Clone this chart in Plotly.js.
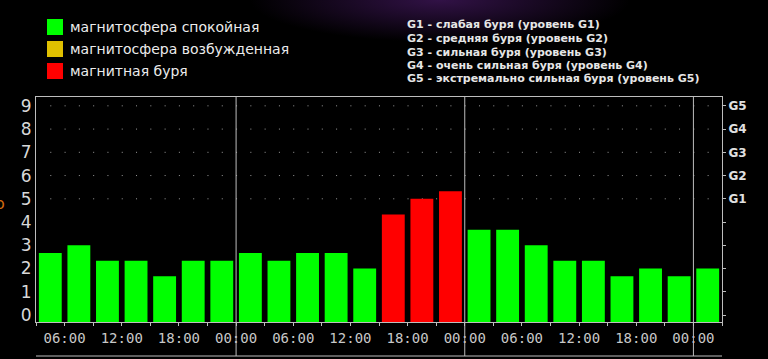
<!DOCTYPE html>
<html>
<head>
<meta charset="utf-8">
<script src="https://cdn.plot.ly/plotly-3.0.1.min.js"></script>
<style>
html,body{margin:0;padding:0;width:768px;height:359px;overflow:hidden;
background:#000 radial-gradient(ellipse 190px 42px at 440px 0px, rgba(62,22,88,0.8), rgba(0,0,0,0) 100%);}
#chart{width:768px;height:359px;}
</style>
</head>
<body>
<div id="chart"></div>
<script>
// ---- data ----
// Kp index, 3-hour intervals; first interval starts at 03:00 of day 1
const startHour = 3;
const kpDay1 = [2.67, 3.0, 2.33, 2.33, 1.67, 2.33, 2.33];
const kpDay2 = [2.67, 2.33, 2.67, 2.67, 2.0, 4.33, 5.0, 5.33];
const kpDay3 = [3.67, 3.67, 3.0, 2.33, 2.33, 1.67, 2.0, 1.67];
const kpDay4 = [2.0];
const xTickHours = [6, 12, 18, 24, 30, 36, 42, 48, 54, 60, 66, 72];
const xTickLabels = ['06:00','12:00','18:00','00:00','06:00','12:00','18:00','00:00','06:00','12:00','18:00','00:00'];
const dayBoundaries = [24, 48, 72];
const yTicks = [0,1,2,3,4,5,6,7,8,9];
const gLabels = ['','','','','','G1','G2','G3','G4','G5'];
const gLevels = [5,6,7,8,9];
const legendItems = ['магнитосфера спокойная','магнитосфера возбужденная','магнитная буря'];
const legendColors = ['#00ff00','#e0c000','#ff0000'];
const gLegend = [
  'G1 - слабая буря (уровень G1)',
  'G2 - средняя буря (уровень G2)',
  'G3 - сильная буря (уровень G3)',
  'G4 - очень сильная буря (уровень G4)',
  'G5 - экстремально сильная буря (уровень G5)'
];

const kp = kpDay1.concat(kpDay2, kpDay3, kpDay4);
const xs = kp.map((v, i) => startHour + 1.5 + 3 * i);
const colors = kp.map(v => v > 4 ? '#ff0000' : (v >= 4 ? '#e0c000' : '#00ff00'));
const yMin = -0.3, yMax = 9.38;
const xMax = startHour + 3 * kp.length;

// pixel -> paper helpers (plot area 36..722 x 97..322)
const L = 36, R = 722, T = 97, B = 322;
const PX = p => (p - L) / (R - L);
const PY = p => (B - p) / (B - T);

const traces = [
  {type:'bar', x: xs, y: kp.map(v => v - yMin), base: yMin,
   marker:{color: colors, line:{width:0}}, hoverinfo:'skip', showlegend:false},
  {type:'scatter', x:[], y:[], yaxis:'y2', hoverinfo:'skip', showlegend:false}
];

const shapes = [];
gLevels.forEach(g => shapes.push({type:'line', xref:'x', yref:'y', x0: startHour + 1.5, x1: xMax, y0: g, y1: g,
  line:{color:'#9a9a9a', width:1, dash:'1px,13.29px'}, layer:'below'}));
dayBoundaries.forEach(d => shapes.push({type:'line', xref:'x', yref:'paper', x0:d, x1:d, y0: PY(356), y1: 1,
  line:{color:'#bdbdbd', width:1}}));
shapes.push({type:'line', xref:'paper', yref:'paper', x0:0, x1:1, y0:PY(356), y1:PY(356), line:{color:'#bdbdbd', width:1}});
legendColors.forEach((c, i) => shapes.push({type:'rect', xref:'paper', yref:'paper',
  x0: PX(47), x1: PX(63), y0: PY(35 + 22 * i), y1: PY(19 + 22 * i), fillcolor: c, line:{width:0}}));

const annotations = [];
legendItems.forEach((t, i) => annotations.push({xref:'paper', yref:'paper', x: PX(68), y: PY(27 + 22 * i),
  xanchor:'left', yanchor:'middle', text: t, showarrow:false,
  font:{family:'DejaVu Sans', size:14, color:'#ececec'}}));
gLegend.forEach((t, i) => annotations.push({xref:'paper', yref:'paper', x: PX(405), y: PY(25 + 13.5 * i),
  xanchor:'left', yanchor:'middle', text: t, showarrow:false,
  font:{family:'DejaVu Sans', size:11, color:'#e6e6e6', weight:'bold'}}));
annotations.push({xref:'paper', yref:'paper', x: PX(0), y: PY(203), xanchor:'center', yanchor:'middle',
  text:'о', showarrow:false, font:{family:'DejaVu Sans', size:16, color:'#d06a10'}});

const layout = {
  width:768, height:359,
  margin:{l:L, r:768 - R, t:T, b:359 - B, pad:0},
  paper_bgcolor:'rgba(0,0,0,0)', plot_bgcolor:'#000',
  bargap:0.2,
  xaxis:{range:[startHour, xMax], tickvals: xTickHours, ticktext: xTickLabels,
    ticks:'outside', ticklen:3, tickcolor:'#bdbdbd',
    minor:{dtick:3, tick0:startHour, ticks:'outside', ticklen:3, tickcolor:'#bdbdbd', showgrid:false},
    showgrid:false, zeroline:false, showline:true, linecolor:'#bdbdbd', linewidth:1, mirror:true,
    tickfont:{family:'DejaVu Sans Mono', size:14, color:'#c8c8c8'}, fixedrange:true},
  yaxis:{range:[yMin, yMax], tickvals: yTicks, ticks:'', showgrid:false, zeroline:false,
    showline:true, linecolor:'#bdbdbd', linewidth:1,
    tickfont:{family:'DejaVu Sans', size:17, color:'#d8d8d8'}, fixedrange:true},
  yaxis2:{range:[yMin, yMax], overlaying:'y', side:'right', tickvals: yTicks, ticktext: gLabels,
    ticks:'outside', ticklen:3, tickcolor:'#bdbdbd', showgrid:false, zeroline:false,
    showline:true, linecolor:'#bdbdbd', linewidth:1,
    tickfont:{family:'DejaVu Sans', size:12, color:'#e0e0e0', weight:'bold'}, fixedrange:true},
  shapes, annotations, showlegend:false
};

Plotly.newPlot('chart', traces, layout, {displayModeBar:false, staticPlot:true});
</script>
</body>
</html>
